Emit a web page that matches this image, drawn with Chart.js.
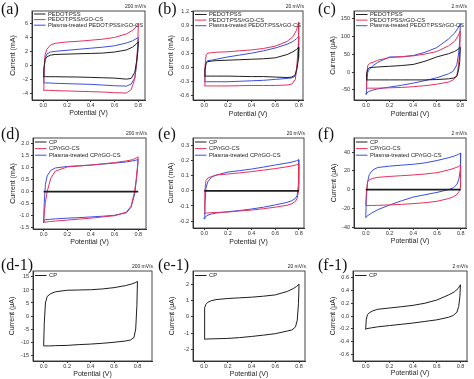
<!DOCTYPE html>
<html><head><meta charset="utf-8">
<script src="https://cdn.jsdelivr.net/npm/chart.js@4.4.1/dist/chart.umd.min.js"></script>
<style>
html,body{margin:0;padding:0;background:#fff;}
#wrap{position:relative;width:474px;height:379px;overflow:hidden;background:#fff;}
canvas{position:absolute;}
.lab{position:absolute;font-family:"Liberation Serif","DejaVu Serif",serif;font-size:16px;color:#111;line-height:1;white-space:nowrap;}
</style></head><body><div id="wrap"></div>
<script>
// potential grid of the forward (anodic) and reverse (cathodic) sweeps, V
const E_FWD = [0, 0.005, 0.015, 0.03, 0.06, 0.1, 0.2, 0.3, 0.4, 0.5, 0.6, 0.7, 0.75, 0.78, 0.8];
const E_REV = [0.8, 0.795, 0.785, 0.77, 0.74, 0.7, 0.6, 0.5, 0.4, 0.3, 0.2, 0.1, 0.05, 0.02, 0.005, 0];

// (a) 200 mV/s, mA
const A_PEDOT_FWD = [-1.6, -0.5, 0.8, 1.2, 1.45, 1.55, 1.6, 1.65, 1.7, 1.75, 1.9, 2.2, 2.6, 3.0, 3.4];
const A_PEDOT_REV = [3.4, 2.0, 0.5, -1.0, -1.9, -2.0, -1.85, -1.8, -1.75, -1.7, -1.68, -1.65, -1.65, -1.65, -1.62, -1.6];
const A_RGO_FWD = [-3.6, -1.5, 1.5, 2.3, 2.9, 3.15, 3.35, 3.45, 3.6, 3.75, 4.0, 4.5, 5.0, 5.5, 6.0];
const A_RGO_REV = [6.0, 3.0, 0.5, -2.0, -3.5, -4.0, -3.95, -3.85, -3.8, -3.75, -3.7, -3.65, -3.6, -3.6, -3.6, -3.6];
const A_PLASMA_FWD = [-2.5, -0.8, 1.0, 1.6, 1.9, 2.0, 2.15, 2.3, 2.45, 2.6, 2.8, 3.2, 3.5, 3.8, 4.0];
const A_PLASMA_REV = [4.0, 2.0, 0.0, -1.8, -2.7, -3.0, -2.95, -2.85, -2.75, -2.7, -2.65, -2.6, -2.55, -2.55, -2.5, -2.5];

// (b) 20 mV/s, mA
const B_PEDOT_FWD = [-0.18, -0.05, 0.1, 0.13, 0.14, 0.15, 0.16, 0.17, 0.18, 0.19, 0.21, 0.28, 0.34, 0.39, 0.44];
const B_PEDOT_REV = [0.44, 0.2, 0.0, -0.15, -0.2, -0.21, -0.2, -0.19, -0.19, -0.185, -0.18, -0.18, -0.18, -0.18, -0.18, -0.18];
const B_RGO_FWD = [-0.39, 0.0, 0.28, 0.31, 0.32, 0.33, 0.34, 0.36, 0.38, 0.41, 0.46, 0.56, 0.66, 0.8, 0.97];
const B_RGO_REV = [0.97, 0.6, 0.1, -0.25, -0.35, -0.37, -0.38, -0.38, -0.38, -0.385, -0.39, -0.39, -0.39, -0.39, -0.39, -0.39];
const B_PLASMA_FWD = [-0.3, -0.05, 0.12, 0.15, 0.16, 0.18, 0.23, 0.27, 0.31, 0.36, 0.42, 0.5, 0.56, 0.62, 0.67];
const B_PLASMA_REV = [0.67, 0.35, 0.0, -0.18, -0.22, -0.23, -0.25, -0.27, -0.28, -0.29, -0.3, -0.3, -0.3, -0.3, -0.3, -0.3];

// (c) 2 mV/s, uA
const C_PEDOT_FWD = [-22, -5, 8, 12, 13, 14, 16, 18, 21, 30, 42, 51, 57, 63, 69];
const C_PEDOT_REV = [69, 30, 5, -12, -17, -19, -21, -22, -22, -22, -22, -22, -22, -22, -22, -22];
const C_RGO_FWD = [-45, -10, 18, 24, 27, 33, 40, 43, 45, 50, 57, 73, 85, 100, 115];
const C_RGO_REV = [115, 60, 20, -10, -22, -28, -34, -38, -41, -43, -44, -45, -45, -45, -45, -45];
const C_PLASMA_FWD = [-62, -30, 0, 8, 18, 27, 42, 42, 46, 55, 68, 92, 108, 122, 135];
const C_PLASMA_REV = [135, 90, 50, 20, 2, -5, -16, -24, -31, -37, -42, -47, -51, -55, -59, -62];

// (d) 200 mV/s, mA
const D_CP_FWD = [0, 0, 0, 0, 0, 0, 0, 0, 0, 0, 0, 0, 0, 0, 0];
const D_CP_REV = [0, 0, 0, 0, 0, 0, 0, 0, 0, 0, 0, 0, 0, 0, 0, 0];
const D_RGO_FWD = [-1.28, -0.9, -0.45, 0.0, 0.55, 0.85, 1.02, 1.06, 1.1, 1.15, 1.2, 1.27, 1.32, 1.38, 1.44];
const D_RGO_REV = [1.44, 1.1, 0.6, 0.0, -0.6, -0.85, -1.0, -1.05, -1.1, -1.14, -1.18, -1.22, -1.24, -1.26, -1.27, -1.28];
const D_PLASMA_FWD = [-1.3, -0.5, 0.3, 0.65, 0.88, 0.98, 1.04, 1.07, 1.1, 1.14, 1.18, 1.23, 1.27, 1.3, 1.33];
const D_PLASMA_REV = [1.33, 1.0, 0.5, -0.1, -0.65, -0.88, -0.98, -1.02, -1.05, -1.08, -1.1, -1.13, -1.15, -1.16, -1.18, -1.3];

// (e) 20 mV/s, mA
const E_CP_FWD = [0, 0, 0, 0, 0, 0, 0, 0, 0, 0, 0, 0, 0, 0, 0];
const E_CP_REV = [0, 0, 0, 0, 0, 0, 0, 0, 0, 0, 0, 0, 0, 0, 0, 0];
const E_RGO_FWD = [-0.15, 0.0, 0.07, 0.085, 0.095, 0.105, 0.112, 0.12, 0.128, 0.138, 0.148, 0.16, 0.167, 0.173, 0.18];
const E_RGO_REV = [0.18, 0.0, -0.05, -0.07, -0.085, -0.095, -0.108, -0.118, -0.127, -0.133, -0.14, -0.143, -0.145, -0.147, -0.148, -0.15];
const E_PLASMA_FWD = [-0.185, -0.1, 0.02, 0.06, 0.09, 0.105, 0.125, 0.135, 0.145, 0.158, 0.172, 0.185, 0.193, 0.2, 0.207];
const E_PLASMA_REV = [0.207, 0.05, -0.03, -0.05, -0.065, -0.076, -0.093, -0.108, -0.12, -0.13, -0.138, -0.147, -0.155, -0.165, -0.178, -0.185];

// (f) 2 mV/s, uA
const F_CP_FWD = [0, 0, 0, 0, 0, 0, 0, 0, 0, 0, 0, 0, 0, 0, 0];
const F_CP_REV = [0, 0, 0, 0, 0, 0, 0, 0, 0, 0, 0, 0, 0, 0, 0, 0];
const F_RGO_FWD = [-17, -3, 8, 10.5, 12, 13, 14, 14.8, 15.6, 16.6, 18, 21, 23, 24.5, 26];
const F_RGO_REV = [26, 2, -2, -5, -7.5, -9.5, -12.5, -14, -15, -15.8, -16.4, -16.8, -17, -17, -17, -17];
const F_PLASMA_FWD = [-30, -10, 8, 16, 21, 23.5, 25, 26, 27, 28.5, 31, 34, 36, 37.5, 39];
const F_PLASMA_REV = [39, 22, 12, 6, 2, 0, -3, -5.5, -8, -12, -16.5, -21.5, -25, -27.5, -29, -30];

// (d-1) 200 mV/s, (e-1) 20 mV/s, (f-1) 2 mV/s, bare CP, uA
const D1_CP_FWD = [-11.5, -3, 5, 7.5, 8.6, 9.3, 9.9, 10.0, 10.1, 10.4, 10.9, 11.7, 12.3, 12.8, 13.3];
const D1_CP_REV = [13.3, 4, -5, -8.3, -9.2, -9.6, -10.1, -10.5, -10.8, -11.0, -11.3, -11.4, -11.5, -11.5, -11.5, -11.5];
const E1_CP_FWD = [-1.36, 0.55, 0.75, 0.88, 0.98, 1.05, 1.12, 1.16, 1.2, 1.26, 1.34, 1.55, 1.72, 1.86, 2.0];
const E1_CP_REV = [2.0, 0.8, -0.2, -0.62, -0.8, -0.87, -1.03, -1.12, -1.2, -1.27, -1.32, -1.34, -1.35, -1.36, -1.36, -1.36];
const F1_CP_FWD = [-0.21, -0.05, 0.02, 0.05, 0.08, 0.105, 0.125, 0.145, 0.167, 0.2, 0.25, 0.33, 0.38, 0.43, 0.49];
const F1_CP_REV = [0.49, 0.3, 0.15, 0.06, 0.01, -0.02, -0.06, -0.085, -0.11, -0.13, -0.15, -0.17, -0.185, -0.195, -0.2, -0.21];

// tick labels
const X_TICKS = [0, 0.2, 0.4, 0.6, 0.8];
const A_Y_TICKS = [-4, -2, 0, 2, 4, 6];
const B_Y_TICKS = [-0.6, -0.3, 0, 0.3, 0.6, 0.9, 1.2];
const C_Y_TICKS = [-50, 0, 50, 100, 150];
const D_Y_TICKS = [-1.5, -1.0, -0.5, 0, 0.5, 1.0, 1.5, 2.0];
const E_Y_TICKS = [-0.2, -0.1, 0, 0.1, 0.2, 0.3];
const F_Y_TICKS = [-40, -20, 0, 20, 40];
const D1_Y_TICKS = [-15, -10, -5, 0, 5, 10, 15];
const E1_Y_TICKS = [-2, -1, 0, 1, 2];
const F1_Y_TICKS = [-0.6, -0.4, -0.2, 0, 0.2, 0.4, 0.6];

const L_PEDOT = ['PEDOT:PSS', 'PEDOT:PSS/rGO-CS', 'Plasma-treated PEDOT:PSS/rGO-CS'];
const L_CP = ['CP', 'CP/rGO-CS', 'Plasma-treated CP/rGO-CS'];

const BLACK = '#1e1e1e', RED = '#e6305c', BLUE = '#3b4ee0';

function loop(fwd, rev) {
  const pts = fwd.map((v, i) => ({x: E_FWD[i], y: v}))
    .concat(rev.map((v, i) => ({x: E_REV[i], y: v})));
  pts.push(pts[0]);
  return pts;
}

const panels = [
  {label:'(a)', lx:1, ly:1, cell:[0,0,155,124], plot:[32,11,145,100], xr:[-0.095,0.856], yr:[-5,7.8], yt:A_Y_TICKS, dec:0,
   yTitle:'Current (mA)', yTX:13.3, xTY:113.5, rate:'200 mV/s', lg:[3,5.6],
   ser:[[L_PEDOT[0],BLACK,A_PEDOT_FWD,A_PEDOT_REV],[L_PEDOT[1],RED,A_RGO_FWD,A_RGO_REV],[L_PEDOT[2],BLUE,A_PLASMA_FWD,A_PLASMA_REV]]},
  {label:'(b)', lx:158, ly:1, cell:[155,0,160,124], plot:[193,11,303,100], xr:[-0.096,0.835], yr:[-0.69,1.21], yt:B_Y_TICKS, dec:1,
   yTitle:'Current (mA)', yTX:170.7, xTY:114, rate:'20 mV/s', lg:[3.5,5.6],
   ser:[[L_PEDOT[0],BLACK,B_PEDOT_FWD,B_PEDOT_REV],[L_PEDOT[1],RED,B_RGO_FWD,B_RGO_REV],[L_PEDOT[2],BLUE,B_PLASMA_FWD,B_PLASMA_REV]]},
  {label:'(c)', lx:318, ly:1, cell:[315,0,159,124], plot:[354,11,466,100], xr:[-0.102,0.848], yr:[-78,170], yt:C_Y_TICKS, dec:0,
   yTitle:'Current (\u03bcA)', yTX:333.3, xTY:114.3, rate:'2 mV/s', lg:[3.5,5.6],
   ser:[[L_PEDOT[0],BLACK,C_PEDOT_FWD,C_PEDOT_REV],[L_PEDOT[1],RED,C_RGO_FWD,C_RGO_REV],[L_PEDOT[2],BLUE,C_PLASMA_FWD,C_PLASMA_REV]]},
  {label:'(d)', lx:1, ly:126, cell:[0,124,155,130], plot:[33,138,146,229], xr:[-0.09,0.866], yr:[-1.55,2.22], yt:D_Y_TICKS, dec:1,
   yTitle:'Current (mA)', yTX:12.7, xTY:241.7, rate:'200 mV/s', thickCP:true, lg:[4,6.6],
   ser:[[L_CP[0],BLACK,D_CP_FWD,D_CP_REV],[L_CP[1],RED,D_RGO_FWD,D_RGO_REV],[L_CP[2],BLUE,D_PLASMA_FWD,D_PLASMA_REV]]},
  {label:'(e)', lx:158, ly:126, cell:[155,124,160,130], plot:[193,138,304,228], xr:[-0.095,0.843], yr:[-0.246,0.351], yt:E_Y_TICKS, dec:1,
   yTitle:'Current (mA)', yTX:171, xTY:241.7, rate:'20 mV/s', thickCP:true, lg:[4,6.6],
   ser:[[L_CP[0],BLACK,E_CP_FWD,E_CP_REV],[L_CP[1],RED,E_RGO_FWD,E_RGO_REV],[L_CP[2],BLUE,E_PLASMA_FWD,E_PLASMA_REV]]},
  {label:'(f)', lx:318, ly:126, cell:[315,124,159,130], plot:[354,138,466,228], xr:[-0.099,0.844], yr:[-41,55], yt:F_Y_TICKS, dec:0,
   yTitle:'Current (\u03bcA)', yTX:334, xTY:241, rate:'2 mV/s', thickCP:true, lg:[4,6.6],
   ser:[[L_CP[0],BLACK,F_CP_FWD,F_CP_REV],[L_CP[1],RED,F_RGO_FWD,F_RGO_REV],[L_CP[2],BLUE,F_PLASMA_FWD,F_PLASMA_REV]]},
  {label:'(d-1)', lx:1, ly:257, cell:[0,254,155,125], plot:[33,271,152,361], xr:[-0.091,0.924], yr:[-17.3,17.3], yt:D1_Y_TICKS, dec:0,
   yTitle:'Current (\u03bcA)', yTX:12.3, xTY:373.8, rate:'200 mV/s', lg:[4.5,6],
   ser:[[L_CP[0],BLACK,D1_CP_FWD,D1_CP_REV]]},
  {label:'(e-1)', lx:158, ly:257, cell:[155,254,160,125], plot:[193,271,305,361], xr:[-0.093,0.85], yr:[-2.7,2.8], yt:E1_Y_TICKS, dec:0,
   yTitle:'Current (\u03bcA)', yTX:172.3, xTY:373.8, rate:'20 mV/s', lg:[4.5,6],
   ser:[[L_CP[0],BLACK,E1_CP_FWD,E1_CP_REV]]},
  {label:'(f-1)', lx:318, ly:257, cell:[315,254,159,125], plot:[353,271,467,361], xr:[-0.107,0.855], yr:[-0.705,0.705], yt:F1_Y_TICKS, dec:1,
   yTitle:'Current (\u03bcA)', yTX:333.3, xTY:373.5, rate:'2 mV/s', lg:[4.5,6],
   ser:[[L_CP[0],BLACK,F1_CP_FWD,F1_CP_REV]]}
];

Chart.defaults.font.family = '"Liberation Sans", Arial, sans-serif';
Chart.defaults.color = '#333';

const decor = {
  id: 'decor',
  afterDraw(chart, args, o) {
    const ctx = chart.ctx, ca = chart.chartArea;
    ctx.save();
    // frame
    ctx.strokeStyle = '#333'; ctx.lineWidth = 0.9;
    ctx.strokeRect(ca.left, ca.top, ca.right - ca.left, ca.bottom - ca.top);
    // scan rate
    ctx.font = '5px "Liberation Sans", Arial, sans-serif';
    ctx.fillStyle = '#222'; ctx.textAlign = 'right'; ctx.textBaseline = 'middle';
    ctx.fillText(o.rate, ca.right + 1, ca.top - 4);
    // legend (inside the plot, top-left)
    ctx.font = '5.8px "Liberation Sans", Arial, sans-serif';
    ctx.textAlign = 'left';
    const textX = ca.left + 16;
    o.items.forEach((it, i) => {
      const y = ca.top + o.lg[0] + o.lg[1] * i;
      ctx.strokeStyle = it.color; ctx.lineWidth = 1;
      ctx.beginPath(); ctx.moveTo(ca.left + 2, y); ctx.lineTo(ca.left + 13.5, y); ctx.stroke();
      ctx.fillStyle = '#222';
      ctx.fillText(it.text, textX, y, ca.right - 2 - textX);
    });
    ctx.restore();
  }
};

const wrap = document.getElementById('wrap');
panels.forEach(p => {
  const [cx, cy, cw, ch] = p.cell;
  const [pl, pt, pr, pb] = p.plot;
  const cv = document.createElement('canvas');
  cv.width = cw; cv.height = ch;
  cv.style.left = cx + 'px'; cv.style.top = cy + 'px';
  cv.style.width = cw + 'px'; cv.style.height = ch + 'px';
  wrap.appendChild(cv);
  const lab = document.createElement('div');
  lab.className = 'lab'; lab.textContent = p.label;
  lab.style.left = p.lx + 'px'; lab.style.top = p.ly + 'px';
  wrap.appendChild(lab);

  const titleFont = 7, lh = titleFont * 1.2;
  const datasets = p.ser.map((s, i) => ({
    label: s[0], data: loop(s[2], s[3]), borderColor: s[1], backgroundColor: s[1],
    borderWidth: (i === 0 && p.thickCP) ? 1.8 : 1, showLine: true, pointRadius: 0, fill: false, tension: 0
  }));
  new Chart(cv, {
    type: 'scatter',
    data: { datasets },
    options: {
      responsive: false, animation: false, devicePixelRatio: 1,
      layout: { padding: { left: 0, top: pt - cy, right: cx + cw - pr, bottom: 0 } },
      plugins: {
        legend: { display: false }, tooltip: { enabled: false }, title: { display: false },
        decor: { rate: p.rate, lg: p.lg, items: p.ser.map(s => ({ text: s[0], color: s[1] })) }
      },
      scales: {
        x: {
          type: 'linear', min: p.xr[0], max: p.xr[1],
          afterBuildTicks: s => { s.ticks = X_TICKS.map(v => ({ value: v })); },
          afterFit: s => { s.height = cy + ch - pb; },
          ticks: { callback: v => Number(v).toFixed(1), font: { size: 5.5 }, color: '#333', padding: 0, maxRotation: 0, autoSkip: false },
          grid: { drawOnChartArea: false, drawTicks: true, tickLength: 2, color: '#333' },
          border: { display: true, color: '#333' },
          title: { display: true, text: 'Potential (V)', font: { size: titleFont }, color: '#222',
                   padding: { top: 0, bottom: Math.max(0, cy + ch - p.xTY - lh / 2) } }
        },
        y: {
          type: 'linear', min: p.yr[0], max: p.yr[1],
          afterBuildTicks: s => { s.ticks = p.yt.map(v => ({ value: v })); },
          afterFit: s => { s.width = pl - cx; },
          ticks: { callback: v => Number(v).toFixed(p.dec), font: { size: 5.5 }, color: '#333', padding: 2, autoSkip: false },
          grid: { drawOnChartArea: false, drawTicks: true, tickLength: 2, color: '#333' },
          border: { display: true, color: '#333' },
          title: { display: true, text: p.yTitle, font: { size: titleFont }, color: '#222',
                   padding: { top: Math.max(0, p.yTX - cx - lh / 2), bottom: 0 } }
        }
      }
    },
    plugins: [decor]
  });
});
</script>
</body></html>
